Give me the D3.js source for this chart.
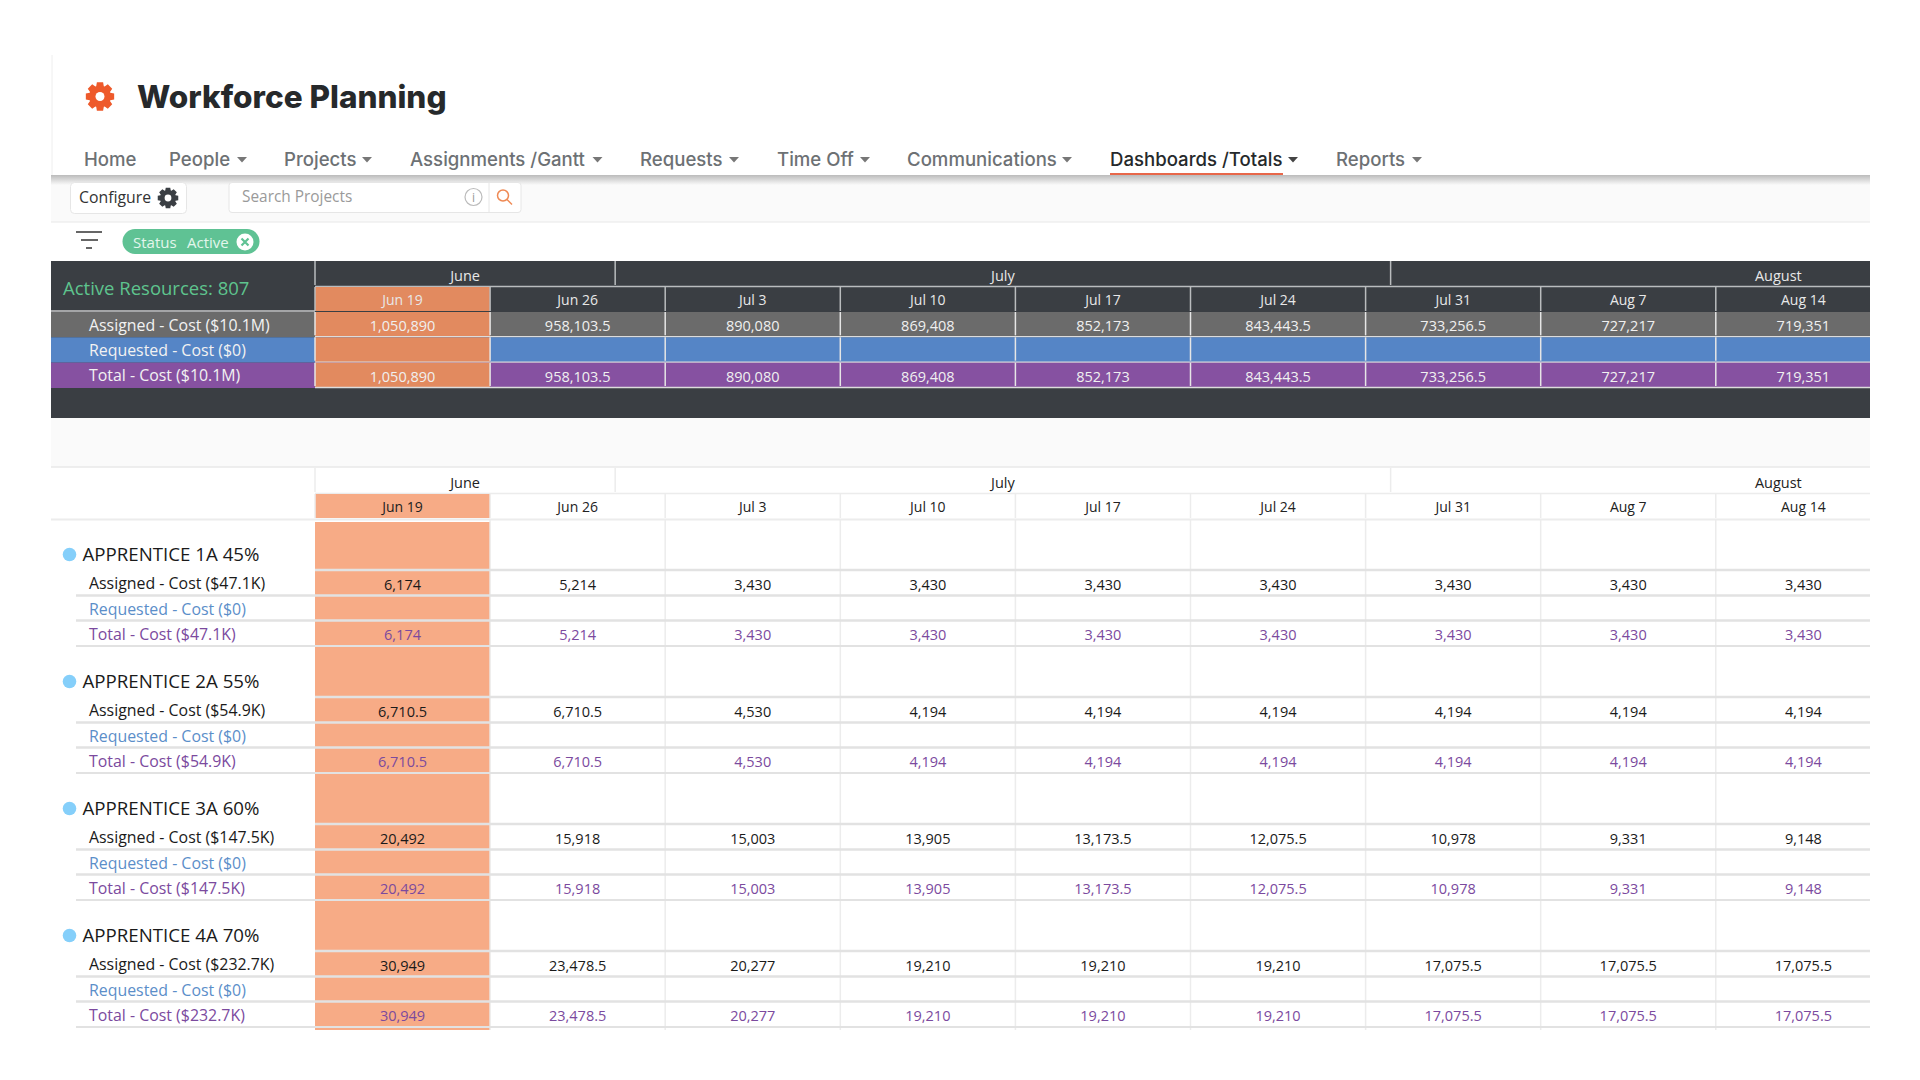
<!DOCTYPE html>
<html>
<head>
<meta charset="utf-8">
<title>Workforce Planning</title>
<script src="https://d3js.org/d3.v7.min.js"></script>
<style>
  body { margin: 0; background: #fff; }
  svg { display: block; }
  text { font-family: "Open Sans", sans-serif; }
  .nav { font-family: Inter, sans-serif; font-weight: 500; font-size: 18.6px; }
</style>
</head>
<body>
<div id="chart"></div>
<script>
// dates and months
const weekStarts = ["2022-06-19","2022-06-26","2022-07-03","2022-07-10","2022-07-17","2022-07-24","2022-07-31","2022-08-07","2022-08-14"];
const weekLabels = ["Jun 19","Jun 26","Jul 3","Jul 10","Jul 17","Jul 24","Jul 31","Aug 7","Aug 14"];
const monthStarts = ["2022-06-19","2022-07-01","2022-08-01","2022-09-01"];
const monthLabels = ["June","July","August"];

// summary table
const summaryLabels = ["Assigned - Cost ($10.1M)","Requested - Cost ($0)","Total - Cost ($10.1M)"];
const summaryAssigned = [1050890,958103.5,890080,869408,852173,843443.5,733256.5,727217,719351];
const summaryRequested = [];
const summaryTotal = [1050890,958103.5,890080,869408,852173,843443.5,733256.5,727217,719351];

// apprentice groups
const groupNames = ["APPRENTICE 1A 45%","APPRENTICE 2A 55%","APPRENTICE 3A 60%","APPRENTICE 4A 70%"];
const groupAssignedLabels = ["Assigned - Cost ($47.1K)","Assigned - Cost ($54.9K)","Assigned - Cost ($147.5K)","Assigned - Cost ($232.7K)"];
const groupRequestedLabels = ["Requested - Cost ($0)","Requested - Cost ($0)","Requested - Cost ($0)","Requested - Cost ($0)"];
const groupTotalLabels = ["Total - Cost ($47.1K)","Total - Cost ($54.9K)","Total - Cost ($147.5K)","Total - Cost ($232.7K)"];
const apprentice1A = [6174,5214,3430,3430,3430,3430,3430,3430,3430];
const apprentice2A = [6710.5,6710.5,4530,4194,4194,4194,4194,4194,4194];
const apprentice3A = [20492,15918,15003,13905,13173.5,12075.5,10978,9331,9148];
const apprentice4A = [30949,23478.5,20277,19210,19210,19210,17075.5,17075.5,17075.5];
const groupValues = [apprentice1A,apprentice2A,apprentice3A,apprentice4A];

const navItems = ["Home","People","Projects","Assignments /Gantt","Requests","Time Off","Communications","Dashboards /Totals","Reports"];
const navX = [84,169,284,410,640,777,907,1110,1336];
const navCaretX = [null,242,367,597.5,734,865,1067,1293,1417];

const W = 1920, H = 1080;
const left = 51, right = 1870, colStart = 315, weekW = 175.1;

const parse = d3.utcParse("%Y-%m-%d");
const fmt = d3.format(",");

// time scale: one week is one column
const x = d3.scaleUtc()
  .domain([parse(weekStarts[0]), parse("2022-06-26")])
  .range([colStart, colStart + weekW]);

const weeks = weekStarts.map(parse);
const colX = d => x(d);
const colMid = d => x(d) + weekW / 2;

const svg = d3.select("#chart").append("svg").attr("width", W).attr("height", H);

const defs = svg.append("defs");
const clip = defs.append("clipPath").attr("id", "tableClip");
clip.append("rect").attr("x", left).attr("y", 0).attr("width", right - left).attr("height", H);
const shadow = defs.append("linearGradient").attr("id", "navShadow").attr("x1", 0).attr("x2", 0).attr("y1", 0).attr("y2", 1);
shadow.append("stop").attr("offset", 0).attr("stop-color", "#bbb");
shadow.append("stop").attr("offset", 1).attr("stop-color", "#fafafa");

function gearPath(r, inner, teeth) {
  const pts = [];
  for (let i = 0; i < teeth; i++) {
    const a = i / teeth * 2 * Math.PI, s = Math.PI / teeth;
    pts.push([a - s * 0.55, r], [a + s * 0.55, r], [a + s * 0.9, inner], [a + s * 1.1, inner]);
  }
  return d3.lineRadial().curve(d3.curveLinearClosed)(pts);
}

function label(g, tx, ty, str, size, color, anchor) {
  return g.append("text").attr("x", tx).attr("y", ty)
    .attr("dominant-baseline", "central")
    .attr("text-anchor", anchor || "start")
    .attr("font-size", size).attr("fill", color).text(str);
}

// page header
const head = svg.append("g");
head.append("rect").attr("x", left).attr("y", 175).attr("width", right - left).attr("height", 47).attr("fill", "#fafafa");
head.append("rect").attr("x", left).attr("y", 175).attr("width", right - left).attr("height", 10).attr("fill", "url(#navShadow)");
head.append("line").attr("x1", left).attr("x2", right).attr("y1", 222).attr("y2", 222).attr("stroke", "#e8e8e8");
head.append("line").attr("x1", left + 1).attr("x2", left + 1).attr("y1", 55).attr("y2", 175).attr("stroke", "#eee");

head.append("path").attr("transform", "translate(100,96.5)")
  .attr("d", gearPath(14.5, 11, 8)).attr("fill", "#ee5a2b");
head.append("circle").attr("cx", 100).attr("cy", 96.5).attr("r", 4.5).attr("fill", "#fff");
head.append("text").attr("x", 137).attr("y", 96.5).attr("dominant-baseline", "central")
  .style("font-family", "Inter, sans-serif").attr("font-weight", 800).attr("font-size", 31.5).attr("fill", "#26292b")
  .text("Workforce Planning");

navItems.forEach((n, i) => {
  head.append("text").attr("class", "nav").attr("x", navX[i]).attr("y", 159)
    .attr("dominant-baseline", "central")
    .attr("fill", n.startsWith("Dashboards") ? "#26292b" : "#6d7174").text(n);
  if (navCaretX[i] != null) {
    const cx = navCaretX[i];
    head.append("path").attr("d", `M${cx - 5},157 L${cx + 5},157 L${cx},162.5 Z`)
      .attr("fill", n.startsWith("Dashboards") ? "#444" : "#777");
  }
});
head.append("rect").attr("x", 1110).attr("y", 173).attr("width", 173).attr("height", 2).attr("fill", "#e8674a");

// toolbar
head.append("rect").attr("x", 70.5).attr("y", 182.5).attr("width", 116).attr("height", 31).attr("rx", 4)
  .attr("fill", "#fff").attr("stroke", "#e6e6e6");
label(head, 79, 197, "Configure", 15.8, "#333");
head.append("path").attr("transform", "translate(168,198)").attr("d", gearPath(10.5, 8, 8)).attr("fill", "#3a3e43");
head.append("circle").attr("cx", 168).attr("cy", 198).attr("r", 3.4).attr("fill", "#fff");

head.append("rect").attr("x", 229).attr("y", 182.5).attr("width", 292).attr("height", 30).attr("rx", 3)
  .attr("fill", "#fff").attr("stroke", "#e6e6e6");
head.append("line").attr("x1", 489).attr("x2", 489).attr("y1", 183).attr("y2", 212).attr("stroke", "#e6e6e6");
label(head, 242, 196.5, "Search Projects", 15.4, "#9a9a9a");
head.append("circle").attr("cx", 473.5).attr("cy", 197).attr("r", 8.5).attr("fill", "none").attr("stroke", "#bbb").attr("stroke-width", 1.2);
label(head, 473.5, 197, "i", 12, "#999", "middle");
head.append("circle").attr("cx", 503).attr("cy", 195.5).attr("r", 5.5).attr("fill", "none").attr("stroke", "#ef8a55").attr("stroke-width", 1.5);
head.append("line").attr("x1", 507).attr("y1", 199.5).attr("x2", 512).attr("y2", 204.5).attr("stroke", "#ef8a55").attr("stroke-width", 1.5);

// filter row
[[76, 102, 232], [81, 98, 240], [86, 92, 248]].forEach(l => {
  head.append("line").attr("x1", l[0]).attr("x2", l[1]).attr("y1", l[2]).attr("y2", l[2]).attr("stroke", "#666").attr("stroke-width", 2);
});
head.append("rect").attr("x", 122.5).attr("y", 229).attr("width", 137).attr("height", 25).attr("rx", 12.5).attr("fill", "#5fc294");
label(head, 133, 241.5, "Status", 15, "#e3f6ec");
label(head, 187, 241.5, "Active", 15, "#e3f6ec");
head.append("circle").attr("cx", 245).attr("cy", 242).attr("r", 8.5).attr("fill", "#fff");
head.append("path").attr("d", "M241.5,238.5 L248.5,245.5 M248.5,238.5 L241.5,245.5").attr("stroke", "#5fc294").attr("stroke-width", 2.2);

const tables = svg.append("g").attr("clip-path", "url(#tableClip)");

// month row and week row, shared by both tables
function drawHeader(g, top, textColor, lineColor, headColor) {
  const months = monthLabels.map((m, i) => ({ name: m, a: parse(monthStarts[i]), b: parse(monthStarts[i + 1]) }));
  g.selectAll(".msep").data(months).enter().append("line")
    .attr("x1", d => x(d.a)).attr("x2", d => x(d.a))
    .attr("y1", top).attr("y2", top + 24)
    .attr("stroke", lineColor).attr("stroke-width", 1.5);
  g.selectAll(".mtxt").data(months).enter().append("text")
    .attr("x", d => (x(d.a) + x(d.b)) / 2).attr("y", top + 14)
    .attr("text-anchor", "middle").attr("dominant-baseline", "central")
    .attr("font-size", 14.5).attr("fill", textColor).text(d => d.name);
  g.append("line").attr("x1", colStart).attr("x2", right).attr("y1", top + 25.5).attr("y2", top + 25.5)
    .attr("stroke", lineColor).attr("stroke-width", 1.5);
  g.append("rect").attr("x", colX(weeks[0])).attr("y", top + 26).attr("width", weekW).attr("height", 24).attr("fill", headColor);
  g.selectAll(".wsep").data(weeks).enter().append("line")
    .attr("x1", colX).attr("x2", colX)
    .attr("y1", top + 26).attr("y2", top + 50)
    .attr("stroke", lineColor).attr("stroke-width", 1.5);
  g.selectAll(".wtxt").data(weeks).enter().append("text")
    .attr("x", colMid).attr("y", top + 38.5)
    .attr("text-anchor", "middle").attr("dominant-baseline", "central")
    .attr("font-size", 14).attr("fill", textColor).text((d, i) => weekLabels[i]);
}

// summary table
const sum = tables.append("g");
sum.append("rect").attr("x", left).attr("y", 261).attr("width", right - left).attr("height", 157).attr("fill", "#3a3e43");
drawHeader(sum, 261, "#e8e8e8", "#b9bcbe", "#e28a5f");
label(sum, 63, 287, "Active Resources: 807", 18.5, "#5ec48e");

const sumRows = [
  { label: summaryLabels[0], values: summaryAssigned, color: "#6b6b6b" },
  { label: summaryLabels[1], values: summaryRequested, color: "#5585c6" },
  { label: summaryLabels[2], values: summaryTotal, color: "#8651a1" }
];
const sumY = d3.scaleBand().domain(d3.range(sumRows.length)).range([312, 388]);

sumRows.forEach((row, r) => {
  const y0 = sumY(r), bh = sumY.bandwidth();
  sum.append("rect").attr("x", left).attr("y", y0).attr("width", right - left).attr("height", bh).attr("fill", row.color);
  sum.append("rect").attr("x", colX(weeks[0])).attr("y", y0).attr("width", weekW).attr("height", bh).attr("fill", "#e28a5f");
  sum.append("line").attr("x1", colStart).attr("x2", right).attr("y1", y0 + bh - 0.5).attr("y2", y0 + bh - 0.5).attr("stroke", "#dcdcdc").attr("stroke-width", 1.5);
  sum.selectAll(null).data(weeks).enter().append("line")
    .attr("x1", colX).attr("x2", colX).attr("y1", y0).attr("y2", y0 + bh - 2)
    .attr("stroke", "#e6e6e6").attr("stroke-width", 1.5);
  label(sum, 89, y0 + bh / 2, row.label, 15.9, "#f2f2f2");
  sum.selectAll(null).data(row.values).enter().append("text")
    .attr("x", (d, i) => colMid(weeks[i])).attr("y", y0 + bh / 2 + 1)
    .attr("text-anchor", "middle").attr("dominant-baseline", "central")
    .attr("font-size", 14.5).attr("fill", "#f0f0f0").text(d => fmt(d));
});
sum.append("line").attr("x1", left).attr("x2", colStart).attr("y1", 311).attr("y2", 311).attr("stroke", "#c8c8c8").attr("stroke-width", 1.5);

// space between tables
tables.append("rect").attr("x", left).attr("y", 418).attr("width", right - left).attr("height", 49).attr("fill", "#fafafa");
tables.append("line").attr("x1", left).attr("x2", right).attr("y1", 467).attr("y2", 467).attr("stroke", "#e8e8e8").attr("stroke-width", 1.5);

// detail table
const detail = tables.append("g");
drawHeader(detail, 468, "#222", "#ececec", "#f7ab86");
detail.append("line").attr("x1", left).attr("x2", right).attr("y1", 519.5).attr("y2", 519.5).attr("stroke", "#ececec").attr("stroke-width", 2);

const groupTop = d3.scaleLinear().domain([0, 1]).range([520, 647]);

groupNames.forEach((name, g) => {
  const y0 = groupTop(g);
  const gr = detail.append("g");
  gr.append("rect").attr("x", colX(weeks[0])).attr("y", g === 0 ? y0 + 2 : y0).attr("width", weekW)
    .attr("height", g === 0 ? 125 : (g === 3 ? 129 : 127)).attr("fill", "#f7ab86");
  gr.selectAll(null).data(weeks.slice(1)).enter().append("line")
    .attr("x1", colX).attr("x2", colX).attr("y1", y0).attr("y2", y0 + (g === 3 ? 129 : 127))
    .attr("stroke", "#ececec").attr("stroke-width", 1.5);
  [50, 75.5, 100.5, 126].forEach((off, k) => {
    gr.append("line").attr("x1", k === 0 ? colStart : 76).attr("x2", right)
      .attr("y1", y0 + off).attr("y2", y0 + off)
      .attr("stroke", "#e2e2e2").attr("stroke-width", k === 3 ? 2 : 2.5);
  });
  gr.append("circle").attr("cx", 69.5).attr("cy", y0 + 34.5).attr("r", 6.8).attr("fill", "#85cffa");
  label(gr, 82.5, y0 + 33, name, 18.7, "#1a1a1a");
  label(gr, 89, y0 + 62.5, groupAssignedLabels[g], 15.9, "#1a1a1a");
  label(gr, 89, y0 + 88.5, groupRequestedLabels[g], 15.9, "#5b8ec9");
  label(gr, 89, y0 + 113.5, groupTotalLabels[g], 15.9, "#7b4a9e");
  gr.selectAll(null).data(groupValues[g]).enter().append("text")
    .attr("x", (d, i) => colMid(weeks[i])).attr("y", y0 + 64)
    .attr("text-anchor", "middle").attr("dominant-baseline", "central")
    .attr("font-size", 14.5).attr("fill", "#1a1a1a").text(d => fmt(d));
  gr.selectAll(null).data(groupValues[g]).enter().append("text")
    .attr("x", (d, i) => colMid(weeks[i])).attr("y", y0 + 114.5)
    .attr("text-anchor", "middle").attr("dominant-baseline", "central")
    .attr("font-size", 14.5).attr("fill", "#7b4a9e").text(d => fmt(d));
});
</script>
</body>
</html>
